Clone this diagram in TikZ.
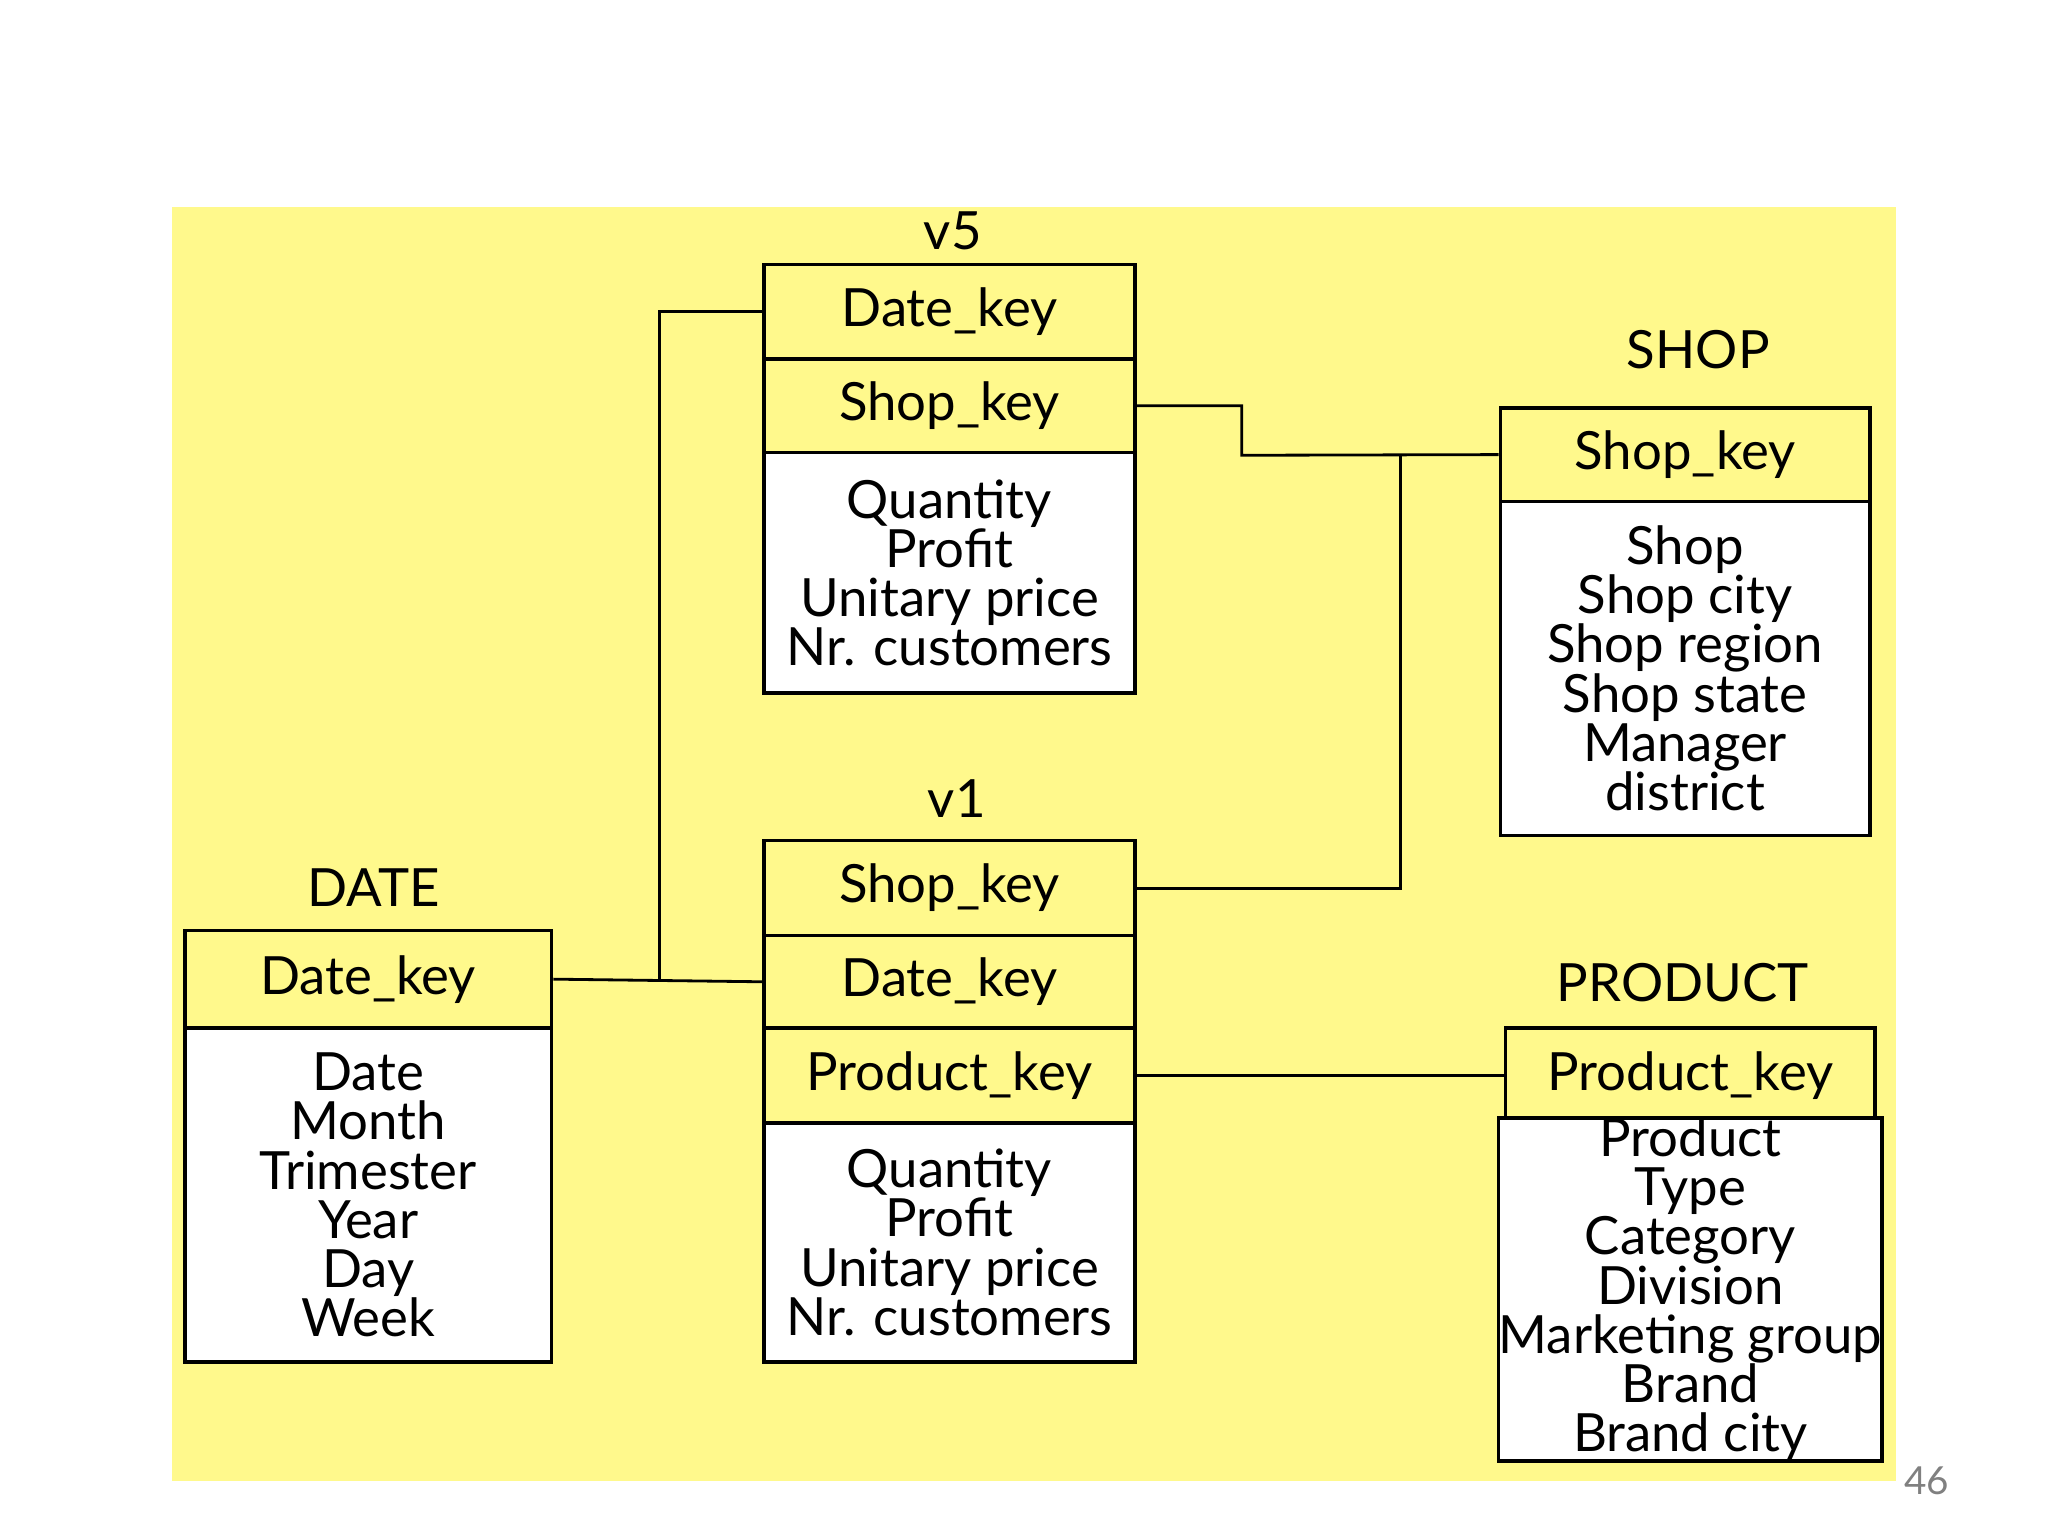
\documentclass[tikz,border=0pt]{standalone}
\usepackage{fontspec}
\setmainfont{Lato}
\begin{document}
\begin{tikzpicture}[x=0.013196cm,y=-0.013196cm,
  box/.style={draw=black,line width=1pt,inner sep=0pt,align=center,font=\fontsize{15}{14}\selectfont},
  key/.style={box,fill=yellow!45!white,minimum height={71*0.013196cm}},
  body/.style={box,fill=white},
  lab/.style={font=\fontsize{15}{14}\selectfont},
  wire/.style={draw=black,line width=0.8pt}]
\useasboundingbox (0,0) rectangle (1552,1164);
\fill[yellow!45!white] (130,157) rectangle (1437,1122);
% v5
\node[lab] (l5) at (722,175) {v5};
\node[key,minimum width={281*0.013196cm}] (v5d) at (719.5,236) {Date\_key};
\node[key,minimum width={281*0.013196cm}] (v5s) at (719.5,307.5) {Shop\_key};
\node[body,minimum width={281*0.013196cm},minimum height={182*0.013196cm}] (v5b) at (719.5,434) {Quantity\\Profit\\Unitary price\\Nr. customers};
% SHOP
\node[lab] (ls) at (1287,265) {SHOP};
\node[key,minimum width={280*0.013196cm}] (sk) at (1277,344.5) {Shop\_key};
\node[body,minimum width={280*0.013196cm},minimum height={253*0.013196cm}] (sb) at (1277,506.5) {Shop\\Shop city\\Shop region\\Shop state\\Manager\\district};
% v1
\node[lab] (l1) at (725,605) {v1};
\node[key,minimum width={281*0.013196cm},minimum height={72*0.013196cm}] (v1s) at (719.5,673) {Shop\_key};
\node[key,minimum width={281*0.013196cm},minimum height={70*0.013196cm}] (v1d) at (719.5,744) {Date\_key};
\node[key,minimum width={281*0.013196cm},minimum height={72*0.013196cm}] (v1p) at (719.5,815) {Product\_key};
\node[body,minimum width={281*0.013196cm},minimum height={181*0.013196cm}] (v1b) at (719.5,941.5) {Quantity\\Profit\\Unitary price\\Nr. customers};
% DATE
\node[lab] (ld) at (283,673) {DATE};
\node[key,minimum width={278*0.013196cm},minimum height={74*0.013196cm}] (dk) at (279,742) {Date\_key};
\node[body,minimum width={278*0.013196cm},minimum height={253*0.013196cm}] (db) at (279,905.5) {Date\\Month\\Trimester\\Year\\Day\\Week};
% PRODUCT
\node[lab] (lp) at (1275,745) {PRODUCT};
\node[key,minimum width={280*0.013196cm},minimum height={72*0.013196cm}] (pk) at (1281,815) {Product\_key};
\node[body,minimum width={280*0.013196cm},minimum height={252*0.013196cm}] (pb) at (1281,977) {Product\\Type\\Category\\Division\\Marketing group\\Brand\\Brand city};
% connectors
\coordinate (j1) at (500,742);
\coordinate (j2) at (941,345);
\coordinate (j3) at (1061,345);
\draw[wire] (v5d.west) -| (j1);
\draw[wire] (dk.east) -- (v1d.west);
\draw[wire] (v5s.east) -| (j2) -- (sk.west);
\draw[wire] (j3) |- (v1s.east);
\draw[wire] (v1p.east) -- (pk.west);
\node[text=gray,font=\fontsize{11}{12}\selectfont] (pg) at (1460,1122) {46};
\end{tikzpicture}
\end{document}
